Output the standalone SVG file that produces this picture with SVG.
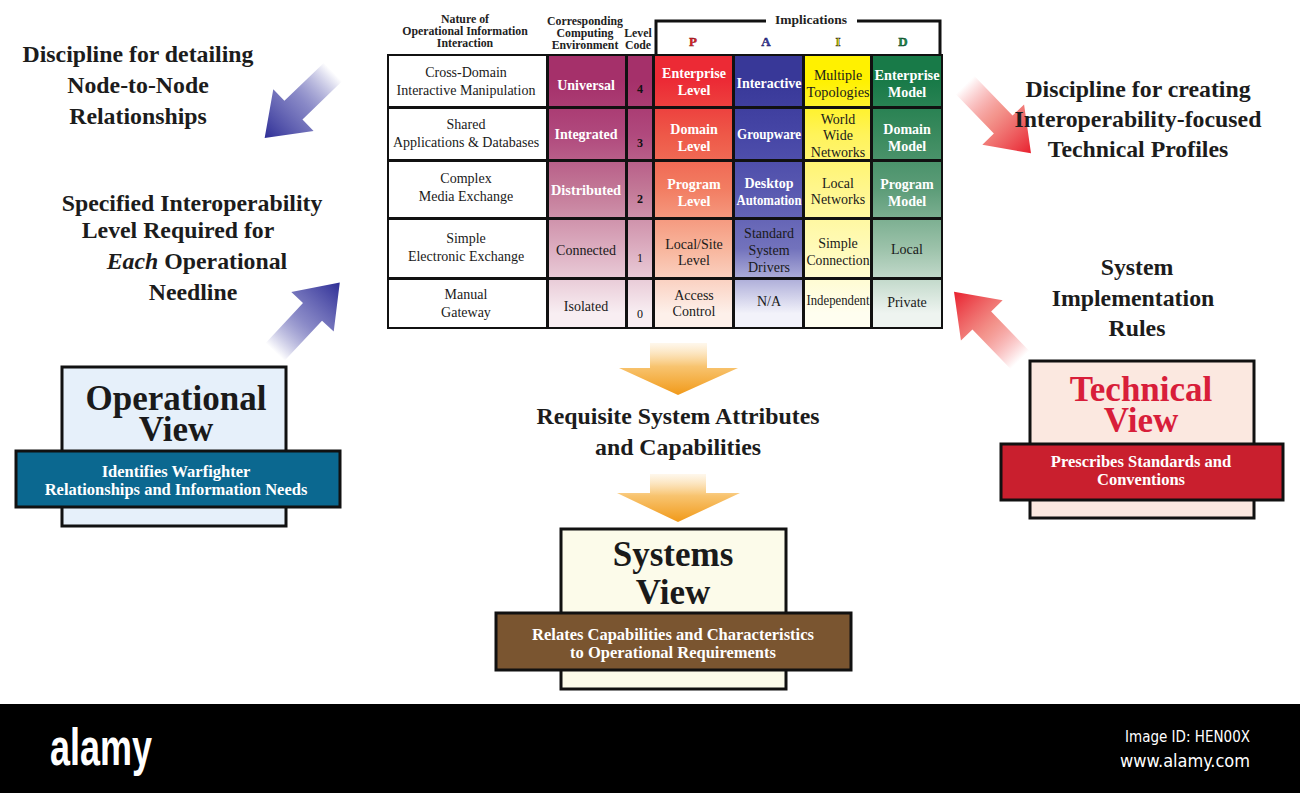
<svg xmlns="http://www.w3.org/2000/svg" width="1300" height="793" viewBox="0 0 1300 793">
<defs>
<style>
text{font-family:"Liberation Serif","Times New Roman",serif;fill:#1a1a1a;text-anchor:middle}
.b{font-weight:bold}
.hd{font-size:11.8px;font-weight:bold;fill:#222}
.c{font-size:14px}
.cb{font-size:14px;font-weight:bold;fill:#fff}
.lab{font-size:23.8px;font-weight:bold;fill:#1c1c1c}
.ttl{font-size:35px;font-weight:bold;fill:#1a1a1a}
.bnd{font-size:16.5px;font-weight:bold;fill:#fff}
.frame{stroke:#111;stroke-width:3}
</style>
<linearGradient id="gM" gradientUnits="userSpaceOnUse" x1="0" y1="56" x2="0" y2="327">
<stop offset="0.09" stop-color="#a5306a"/><stop offset="0.29" stop-color="#b0497d"/><stop offset="0.49" stop-color="#c27796"/><stop offset="0.71" stop-color="#dcadc0"/><stop offset="0.95" stop-color="#f8eef2"/>
</linearGradient>
<linearGradient id="gP" gradientUnits="userSpaceOnUse" x1="0" y1="56" x2="0" y2="327">
<stop offset="0.09" stop-color="#ec2a35"/><stop offset="0.29" stop-color="#ee5848"/><stop offset="0.49" stop-color="#f27d62"/><stop offset="0.71" stop-color="#f8b59c"/><stop offset="0.95" stop-color="#fdf0ea"/>
</linearGradient>
<linearGradient id="gA" gradientUnits="userSpaceOnUse" x1="0" y1="56" x2="0" y2="327">
<stop offset="0.09" stop-color="#383898"/><stop offset="0.29" stop-color="#4646a6"/><stop offset="0.49" stop-color="#5858b0"/><stop offset="0.71" stop-color="#7272bc"/><stop offset="0.95" stop-color="#f2f2fa"/>
</linearGradient>
<linearGradient id="gI" gradientUnits="userSpaceOnUse" x1="0" y1="56" x2="0" y2="327">
<stop offset="0.09" stop-color="#fff100"/><stop offset="0.29" stop-color="#fff35a"/><stop offset="0.49" stop-color="#fff68c"/><stop offset="0.71" stop-color="#fffab8"/><stop offset="0.95" stop-color="#fffef0"/>
</linearGradient>
<linearGradient id="gD" gradientUnits="userSpaceOnUse" x1="0" y1="56" x2="0" y2="327">
<stop offset="0.09" stop-color="#187a48"/><stop offset="0.29" stop-color="#3a8a5e"/><stop offset="0.49" stop-color="#5c9c78"/><stop offset="0.71" stop-color="#9cc2aa"/><stop offset="0.95" stop-color="#eef4f0"/>
</linearGradient>
<linearGradient id="blueArrow" x1="0" y1="0" x2="1" y2="0">
<stop offset="0" stop-color="#3a3aa0" stop-opacity="0"/><stop offset="0.45" stop-color="#6a6ab8" stop-opacity="0.8"/><stop offset="1" stop-color="#2e2e96"/>
</linearGradient>
<linearGradient id="redArrow" x1="0" y1="0" x2="1" y2="0">
<stop offset="0" stop-color="#f04048" stop-opacity="0"/><stop offset="0.45" stop-color="#f07a70" stop-opacity="0.8"/><stop offset="1" stop-color="#e8202e"/>
</linearGradient>
<linearGradient id="orangeArrow" x1="0" y1="0" x2="0" y2="1">
<stop offset="0" stop-color="#fbd9a0" stop-opacity="0.2"/><stop offset="0.45" stop-color="#f8c470"/><stop offset="1" stop-color="#f19a1a"/>
</linearGradient>
<path id="fat" d="M0,-13 L55,-13 L55,-29 L95,0 L55,29 L55,13 L0,13 Z"/>
</defs>

<rect width="1300" height="793" fill="#fff"/>

<!-- Connectors -->
<g id="connectors">
<use href="#fat" fill="url(#blueArrow)" transform="translate(333,72) rotate(136)"/>
<use href="#fat" fill="url(#blueArrow)" transform="translate(275,352) rotate(-47)"/>
<use href="#fat" fill="url(#redArrow)" transform="translate(965,85) rotate(46)"/>
<use href="#fat" fill="url(#redArrow)" transform="translate(1020,360) rotate(226)"/>
<path d="M650,343 L707,343 L707,368 L738,368 L678,395 L619,368 L650,368 Z" fill="url(#orangeArrow)"/>
<path d="M650,474 L706,474 L706,493 L740,493 L678,522 L617,493 L650,493 Z" fill="url(#orangeArrow)"/>
</g>

<!-- Table -->
<g id="matrix">
<text class="hd" x="465" y="23">Nature of</text>
<text class="hd" x="465" y="35">Operational Information</text>
<text class="hd" x="465" y="47">Interaction</text>
<text class="hd" x="585" y="25">Corresponding</text>
<text class="hd" x="585" y="37">Computing</text>
<text class="hd" x="585" y="49">Environment</text>
<text class="hd" x="638" y="37">Level</text>
<text class="hd" x="638" y="49">Code</text>
<path d="M656,54 L656,21 L766,21 M857,21 L940,21 L940,54" fill="none" stroke="#111" stroke-width="3"/>
<text x="811" y="24" style="font-size:13.5px;font-weight:bold;fill:#222">Implications</text>
<text x="693" y="46" style="font-size:13px;font-weight:bold;fill:#e0202a;stroke:#7a1010;stroke-width:0.4">P</text>
<text x="766" y="46" style="font-size:13px;font-weight:bold;fill:#3a3aa0;stroke:#1a1a60;stroke-width:0.4">A</text>
<text x="838" y="46" style="font-size:13px;font-weight:bold;fill:#f4e400;stroke:#333;stroke-width:0.6">I</text>
<text x="903" y="46" style="font-size:13px;font-weight:bold;fill:#1a8a4a;stroke:#0a3a20;stroke-width:0.4">D</text>

<rect x="387" y="54" width="556" height="275" fill="#111"/>
<rect x="389" y="56" width="157" height="271" fill="#fff"/>
<rect x="549" y="56" width="76" height="271" fill="url(#gM)"/>
<rect x="628" y="56" width="24" height="271" fill="url(#gM)"/>
<rect x="655" y="56" width="77" height="271" fill="url(#gP)"/>
<rect x="735" y="56" width="67" height="271" fill="url(#gA)"/>
<rect x="805" y="56" width="65" height="271" fill="url(#gI)"/>
<rect x="873" y="56" width="68" height="271" fill="url(#gD)"/>
<g fill="#111">
<rect x="389" y="106" width="552" height="3"/>
<rect x="389" y="159" width="552" height="3"/>
<rect x="389" y="217" width="552" height="3"/>
<rect x="389" y="277" width="552" height="3"/>
</g>

<!-- Row 1 -->
<text class="c" x="466" y="77">Cross-Domain</text>
<text class="c" x="466" y="95">Interactive Manipulation</text>
<text class="cb" x="586" y="90">Universal</text>
<text class="b" x="640" y="93" style="font-size:12px;fill:#111">4</text>
<text class="cb" x="694" y="78">Enterprise</text>
<text class="cb" x="694" y="95">Level</text>
<text class="cb" x="769" y="88" textLength="65" lengthAdjust="spacingAndGlyphs">Interactive</text>
<text class="c" x="838" y="80">Multiple</text>
<text class="c" x="838" y="97" textLength="63" lengthAdjust="spacingAndGlyphs">Topologies</text>
<text class="cb" x="907" y="80" textLength="65" lengthAdjust="spacingAndGlyphs">Enterprise</text>
<text class="cb" x="907" y="97">Model</text>
<!-- Row 2 -->
<text class="c" x="466" y="129">Shared</text>
<text class="c" x="466" y="147">Applications &amp; Databases</text>
<text class="cb" x="586" y="139">Integrated</text>
<text class="b" x="640" y="147" style="font-size:12px;fill:#111">3</text>
<text class="cb" x="694" y="134">Domain</text>
<text class="cb" x="694" y="151">Level</text>
<text class="cb" x="769" y="139" textLength="64" lengthAdjust="spacingAndGlyphs">Groupware</text>
<text class="c" x="838" y="124">World</text>
<text class="c" x="838" y="140">Wide</text>
<text class="c" x="838" y="157">Networks</text>
<text class="cb" x="907" y="134">Domain</text>
<text class="cb" x="907" y="151">Model</text>
<!-- Row 3 -->
<text class="c" x="466" y="183">Complex</text>
<text class="c" x="466" y="201">Media Exchange</text>
<text class="cb" x="586" y="195" textLength="70" lengthAdjust="spacingAndGlyphs">Distributed</text>
<text class="b" x="640" y="203" style="font-size:12px;fill:#111">2</text>
<text class="cb" x="694" y="189">Program</text>
<text class="cb" x="694" y="206">Level</text>
<text class="cb" x="769" y="188">Desktop</text>
<text class="cb" x="769" y="205" textLength="65" lengthAdjust="spacingAndGlyphs">Automation</text>
<text class="c" x="838" y="188">Local</text>
<text class="c" x="838" y="204">Networks</text>
<text class="cb" x="907" y="189">Program</text>
<text class="cb" x="907" y="206">Model</text>
<!-- Row 4 -->
<text class="c" x="466" y="243">Simple</text>
<text class="c" x="466" y="261">Electronic Exchange</text>
<text class="c" x="586" y="255">Connected</text>
<text x="640" y="262" style="font-size:12px;fill:#111">1</text>
<text class="c" x="694" y="249">Local/Site</text>
<text class="c" x="694" y="265">Level</text>
<text class="c" x="769" y="238">Standard</text>
<text class="c" x="769" y="255">System</text>
<text class="c" x="769" y="272">Drivers</text>
<text class="c" x="838" y="248">Simple</text>
<text class="c" x="838" y="265" textLength="63" lengthAdjust="spacingAndGlyphs">Connection</text>
<text class="c" x="907" y="254">Local</text>
<!-- Row 5 -->
<text class="c" x="466" y="299">Manual</text>
<text class="c" x="466" y="317">Gateway</text>
<text class="c" x="586" y="311">Isolated</text>
<text x="640" y="318" style="font-size:12px;fill:#111">0</text>
<text class="c" x="694" y="300">Access</text>
<text class="c" x="694" y="316">Control</text>
<text class="c" x="769" y="306">N/A</text>
<text class="c" x="838" y="305" textLength="63" lengthAdjust="spacingAndGlyphs">Independent</text>
<text class="c" x="907" y="307">Private</text>
</g>

<!-- Side labels -->
<g id="label-node-to-node">
<text class="lab" x="138" y="62">Discipline for detailing</text>
<text class="lab" x="138" y="93">Node-to-Node</text>
<text class="lab" x="138" y="124">Relationships</text>
</g>
<g id="label-specified">
<text class="lab" x="192" y="211">Specified Interoperability</text>
<text class="lab" x="178" y="238">Level Required for</text>
<text class="lab" x="197" y="269"><tspan font-style="italic">Each</tspan>  Operational</text>
<text class="lab" x="193" y="300">Needline</text>
</g>
<g id="label-technical-profiles">
<text class="lab" x="1138" y="97">Discipline for creating</text>
<text class="lab" x="1138" y="127">Interoperability-focused</text>
<text class="lab" x="1138" y="157">Technical Profiles</text>
</g>
<g id="label-implementation">
<text class="lab" x="1137" y="275">System</text>
<text class="lab" x="1133" y="306">Implementation</text>
<text class="lab" x="1137" y="336">Rules</text>
</g>
<g id="label-requisite">
<text class="lab" x="678" y="424">Requisite System Attributes</text>
<text class="lab" x="678" y="455">and Capabilities</text>
</g>

<!-- Operational View -->
<g id="operational-view">
<rect class="frame" x="62" y="367" width="224" height="159" fill="#e6f0fa"/>
<text class="ttl" x="176" y="410">Operational</text>
<text class="ttl" x="176" y="441">View</text>
<rect class="frame" x="16" y="451" width="324" height="56" fill="#0b6890"/>
<text class="bnd" x="176" y="477">Identifies Warfighter</text>
<text class="bnd" x="176" y="495">Relationships and Information Needs</text>
</g>

<!-- Technical View -->
<g id="technical-view">
<rect class="frame" x="1030" y="361" width="224" height="157" fill="#fbe8e0"/>
<text class="ttl" x="1141" y="401" style="fill:#d81e3a">Technical</text>
<text class="ttl" x="1141" y="432" style="fill:#d81e3a">View</text>
<rect class="frame" x="1001" y="444" width="282" height="56" fill="#c91f2e"/>
<text class="bnd" x="1141" y="467">Prescribes Standards and</text>
<text class="bnd" x="1141" y="485">Conventions</text>
</g>

<!-- Systems View -->
<g id="systems-view">
<rect class="frame" x="561" y="529" width="225" height="160" fill="#fcfbea"/>
<text class="ttl" x="673" y="566">Systems</text>
<text class="ttl" x="673" y="604">View</text>
<rect class="frame" x="496" y="613" width="355" height="57" fill="#7a5530"/>
<text class="bnd" x="673" y="640">Relates Capabilities and Characteristics</text>
<text class="bnd" x="673" y="658">to Operational Requirements</text>
</g>

<!-- Footer bar -->
<g id="footer">
<rect x="0" y="704" width="1300" height="89" fill="#000"/>
<text x="50" y="765" textLength="102" lengthAdjust="spacingAndGlyphs" style="font-family:'Liberation Sans','DejaVu Sans',sans-serif;font-size:52px;font-weight:bold;fill:#fff;text-anchor:start">alamy</text>
<text x="1250" y="742" style="font-family:'DejaVu Sans Condensed','Liberation Sans',sans-serif;font-size:15px;fill:#fff;text-anchor:end">Image ID: HEN00X</text>
<text x="1250" y="767" style="font-family:'DejaVu Sans Condensed','Liberation Sans',sans-serif;font-size:18px;fill:#fff;text-anchor:end">www.alamy.com</text>
</g>
</svg>
